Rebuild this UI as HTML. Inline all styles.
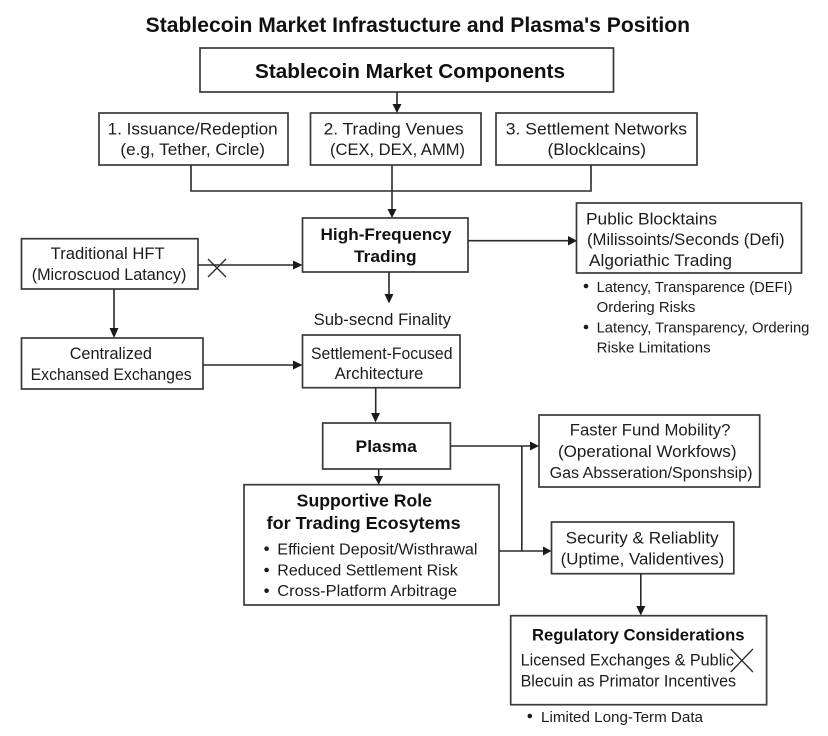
<!DOCTYPE html>
<html><head><meta charset="utf-8"><style>
html,body{margin:0;padding:0;background:#fff;width:828px;height:736px;overflow:hidden}
svg{display:block}
text{font-family:"Liberation Sans",sans-serif;font-size:16.5px;fill:#1c1c1c;}
.b{font-weight:bold;fill:#111}
rect{fill:#fff;stroke:#3a3a3a;stroke-width:1.7}
path.l{fill:none;stroke:#2a2a2a;stroke-width:1.6}
path.a{fill:#1a1a1a;stroke:none}
circle{fill:#1c1c1c}
</style></head><body>
<svg width="828" height="736" viewBox="0 0 828 736" xmlns="http://www.w3.org/2000/svg">
<rect x="200" y="48" width="413.5" height="44"/>
<rect x="99" y="113" width="189" height="52"/>
<rect x="310.5" y="113" width="170.5" height="52"/>
<rect x="496" y="113" width="201" height="52"/>
<rect x="302.5" y="218" width="165.5" height="54"/>
<rect x="576.5" y="203" width="225" height="70"/>
<rect x="21.5" y="238.7" width="176.5" height="50.3"/>
<rect x="21.5" y="338" width="181.5" height="51"/>
<rect x="302.5" y="335" width="157.5" height="52.7"/>
<rect x="322.7" y="423" width="127.7" height="46"/>
<rect x="244" y="484.7" width="255" height="120.3"/>
<rect x="539" y="415" width="220.7" height="72"/>
<rect x="551.5" y="522" width="182.3" height="51.7"/>
<rect x="510.7" y="615.7" width="255.9" height="89"/>

<path class="l" d="M397 92V106M191 165V191H591V165M392 165V211M468 240.7H570M198 265H296M114 289V329M203 365H296M389 272V296M375.7 388V415M450.4 446H532M378.7 469V477M521.8 446V551M499 551H545M640.8 574V608"/>
<path class="l" style="stroke-width:1.3" d="M208 259L226 277M226 259L208 277M730.8 649L752.9 672M752.9 649L730.8 672"/>
<path class="a" d="M392.5 104H401.5L397 113ZM387.5 209H396.5L392 218ZM568 236L577 240.7L568 245.5ZM293 260.5L302.5 265L293 269.5ZM109.5 328H118.5L114 338ZM293 360.5L302.5 365L293 369.5ZM384.5 294H393.5L389 303.5ZM371 413H380L375.5 422.5ZM530 441.5L539 446L530 450.5ZM374 476H383L378.7 484.7ZM543 546.5L551.5 551L543 555.5ZM636.3 606H645.3L640.8 615.5Z"/>

<g>
<text class="b" x="145.7" y="32" style="font-size:21px" textLength="544.3" lengthAdjust="spacingAndGlyphs">Stablecoin Market Infrastucture and Plasma's Position</text>
<text class="b" x="255" y="78" style="font-size:20.5px" textLength="310" lengthAdjust="spacingAndGlyphs">Stablecoin Market Components</text>
<text x="107.7" y="134.7" textLength="170" lengthAdjust="spacingAndGlyphs">1. Issuance/Redeption</text>
<text x="120.4" y="155" textLength="144.6" lengthAdjust="spacingAndGlyphs">(e.g, Tether, Circle)</text>
<text x="323.6" y="134.7" textLength="140" lengthAdjust="spacingAndGlyphs">2. Trading Venues</text>
<text x="330" y="155" textLength="135" lengthAdjust="spacingAndGlyphs">(CEX, DEX, AMM)</text>
<text x="505.8" y="134.7" textLength="181.2" lengthAdjust="spacingAndGlyphs">3. Settlement Networks</text>
<text x="547.5" y="155" textLength="98.5" lengthAdjust="spacingAndGlyphs">(Blocklcains)</text>
<text class="b" x="320.5" y="240" textLength="130.9" lengthAdjust="spacingAndGlyphs">High-Frequency</text>
<text class="b" x="354" y="262" textLength="62.6" lengthAdjust="spacingAndGlyphs">Trading</text>
<text x="586" y="224.7" textLength="131" lengthAdjust="spacingAndGlyphs">Public Blocktains</text>
<text x="587" y="245" textLength="197.6" lengthAdjust="spacingAndGlyphs">(Milissoints/Seconds (Defi)</text>
<text x="589" y="266" textLength="143" lengthAdjust="spacingAndGlyphs">Algoriathic Trading</text>
<circle cx="586" cy="286" r="2.3"/>
<text x="596.6" y="292" style="font-size:15px" textLength="195.9" lengthAdjust="spacingAndGlyphs">Latency, Transparence (DEFI)</text>
<text x="596.6" y="312" style="font-size:15px" textLength="98.8" lengthAdjust="spacingAndGlyphs">Ordering Risks</text>
<circle cx="586" cy="327" r="2.3"/>
<text x="596.6" y="332.7" style="font-size:15px" textLength="212.8" lengthAdjust="spacingAndGlyphs">Latency, Transparency, Ordering</text>
<text x="596.6" y="352.7" style="font-size:15px" textLength="114.1" lengthAdjust="spacingAndGlyphs">Riske Limitations</text>
<text x="50.7" y="259" textLength="114" lengthAdjust="spacingAndGlyphs">Traditional HFT</text>
<text x="31.7" y="280" textLength="154.7" lengthAdjust="spacingAndGlyphs">(Microscuod Latancy)</text>
<text x="69.7" y="359" textLength="82.3" lengthAdjust="spacingAndGlyphs">Centralized</text>
<text x="30.6" y="380" textLength="161.1" lengthAdjust="spacingAndGlyphs">Exchansed Exchanges</text>
<text x="313.6" y="325" textLength="137.4" lengthAdjust="spacingAndGlyphs">Sub-secnd Finality</text>
<text x="311" y="359" textLength="141.5" lengthAdjust="spacingAndGlyphs">Settlement-Focused</text>
<text x="334.7" y="379" textLength="88.7" lengthAdjust="spacingAndGlyphs">Architecture</text>
<text class="b" x="355.5" y="452" style="font-size:17px" textLength="61.4" lengthAdjust="spacingAndGlyphs">Plasma</text>
<text x="569.8" y="435.7" textLength="160.6" lengthAdjust="spacingAndGlyphs">Faster Fund Mobility?</text>
<text x="558" y="457" textLength="178.5" lengthAdjust="spacingAndGlyphs">(Operational Workfows)</text>
<text x="549.6" y="478" style="font-size:15.5px" textLength="202.9" lengthAdjust="spacingAndGlyphs">Gas Absseration/Sponshsip)</text>
<text class="b" x="296.7" y="506.7" style="font-size:17.5px" textLength="135.3" lengthAdjust="spacingAndGlyphs">Supportive Role</text>
<text class="b" x="266.6" y="529" style="font-size:17.5px" textLength="194.1" lengthAdjust="spacingAndGlyphs">for Trading Ecosytems</text>
<circle cx="266.6" cy="548.7" r="2.3"/>
<text x="277.3" y="554.3" style="font-size:15.5px" textLength="200.2" lengthAdjust="spacingAndGlyphs">Efficient Deposit/Wisthrawal</text>
<circle cx="266.6" cy="570" r="2.3"/>
<text x="277.3" y="575.3" style="font-size:15.5px" textLength="180.4" lengthAdjust="spacingAndGlyphs">Reduced Settlement Risk</text>
<circle cx="266.6" cy="590.7" r="2.3"/>
<text x="277.3" y="596" style="font-size:15.5px" textLength="179.7" lengthAdjust="spacingAndGlyphs">Cross-Platform Arbitrage</text>
<text x="565.6" y="543.3" textLength="153" lengthAdjust="spacingAndGlyphs">Security &amp; Reliablity</text>
<text x="560.7" y="564.3" textLength="163.6" lengthAdjust="spacingAndGlyphs">(Uptime, Validentives)</text>
<text class="b" x="532" y="640.3" style="font-size:16.5px;font-weight:bold" textLength="212.5" lengthAdjust="spacingAndGlyphs">Regulatory Considerations</text>
<text x="520.6" y="665.3" textLength="213.4" lengthAdjust="spacingAndGlyphs">Licensed Exchanges &amp; Public</text>
<text x="520.6" y="686.7" textLength="215.4" lengthAdjust="spacingAndGlyphs">Blecuin as Primator Incentives</text>
<circle cx="529.8" cy="716" r="2.3"/>
<text x="541" y="722" style="font-size:15px" textLength="162" lengthAdjust="spacingAndGlyphs">Limited Long-Term Data</text>
</g>
</svg>
</body></html>
